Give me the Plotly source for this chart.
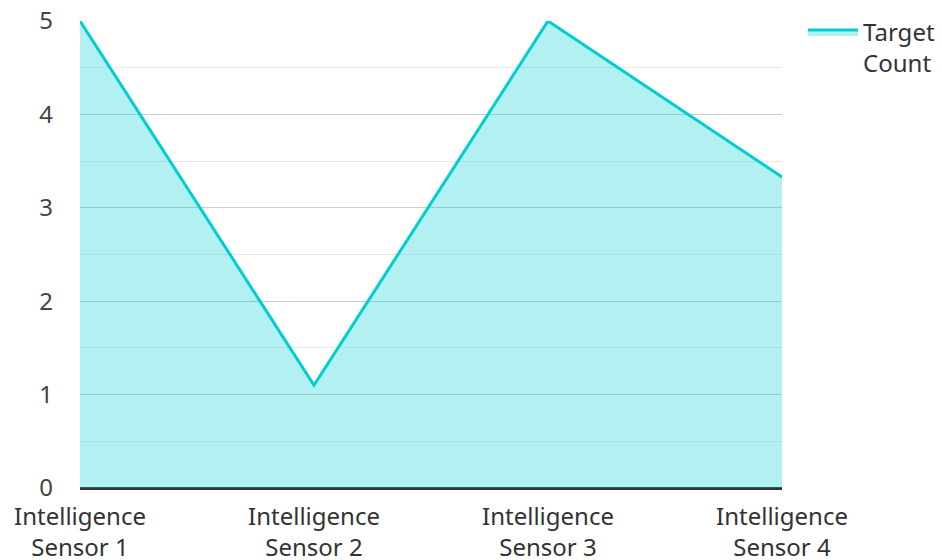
import plotly.graph_objects as go

categories = ["Intelligence<br>Sensor 1", "Intelligence<br>Sensor 2", "Intelligence<br>Sensor 3", "Intelligence<br>Sensor 4"]
target_count = [5, 1.1, 5, 3.33]
series_name = "Target<br>Count"
y_ticks = [0, 1, 2, 3, 4, 5]

fig = go.Figure()
fig.add_trace(go.Scatter(
    x=categories, y=target_count, name=series_name,
    mode="lines", fill="tozeroy",
    line=dict(color="#00CED1", width=3),
    fillcolor="rgba(0,206,209,0.3)",
    showlegend=True,
))

fig.update_layout(
    width=942, height=560,
    margin=dict(l=80, r=160, t=21, b=72, autoexpand=False),
    paper_bgcolor="white", plot_bgcolor="white",
    font=dict(family="Noto Sans", size=24, color="#444"),
    legend=dict(x=1.03, xanchor="left", y=1.024, yanchor="top",
                itemwidth=50, valign="top",
                font=dict(size=24, color="#333")),
    xaxis=dict(type="category", range=[0, 3], showgrid=False, automargin=False,
               showline=True, linecolor="#333", linewidth=2,
               ticks="", ticklabelstandoff=6, tickfont=dict(size=24, color="#333")),
    yaxis=dict(range=[0, 5], tickvals=y_ticks, showgrid=True, automargin=False,
               gridcolor="#cccccc", gridwidth=1,
               zeroline=True, zerolinecolor="#333", zerolinewidth=2,
               minor=dict(dtick=0.5, showgrid=True, gridcolor="#e8e8e8", gridwidth=1),
               ticklabelstandoff=26,
               tickfont=dict(size=24, color="#444")),
)

fig.write_html("out.html")
